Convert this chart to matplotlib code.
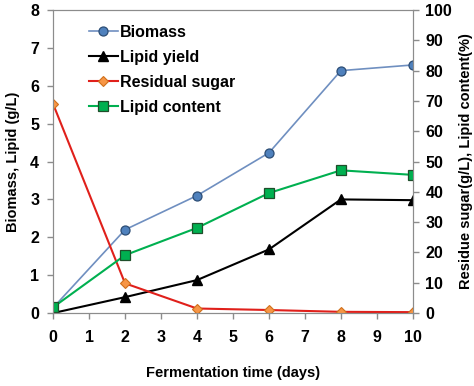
import matplotlib.pyplot as plt
import numpy as np

plt.rcParams['font.family'] = ['Liberation Sans', 'DejaVu Sans']
plt.rcParams['font.weight'] = 'bold'

# data
days = [0, 2, 4, 6, 8, 10]
biomass = [0.14, 2.2, 3.1, 4.23, 6.4, 6.55]        # g/L, left axis
lipid_yield = [0.0, 0.42, 0.87, 1.68, 3.0, 2.98]   # g/L, left axis
residual_sugar = [69.0, 9.8, 1.5, 1.0, 0.4, 0.3]   # g/L, right axis
lipid_content = [1.9, 19.1, 28.1, 39.6, 47.1, 45.6]  # %, right axis

fig = plt.figure(figsize=(4.74, 3.86), dpi=100)
ax = fig.add_axes([0.112, 0.189, 0.759, 0.785])
ax2 = ax.twinx()

l1, = ax.plot(days, biomass, '-o', color='#6F8FC0', lw=1.2, ms=6.5,
              mfc='#4F81BD', mec='#2C4D75', mew=0.9, label='Biomass')
l2, = ax.plot(days, lipid_yield, '-^', color='black', lw=1.5, ms=6.5,
              mfc='black', mec='black', label='Lipid yield')
l3, = ax2.plot(days, residual_sugar, '-D', color='#E0201B', lw=1.5, ms=5,
               mfc='#F79646', mec='#D0701B', mew=0.8, label='Residual sugar')
l4, = ax2.plot(days, lipid_content, '-s', color='#00B050', lw=1.5, ms=6.5,
               mfc='#00B050', mec='#1E4E2A', mew=0.9, label='Lipid content')

ax.set_xlim(0, 10)
ax.set_ylim(0, 8)
ax2.set_ylim(0, 100)
ax.set_xticks(range(0, 11))
ax.set_yticks(range(0, 9))
ax2.set_yticks(range(0, 101, 10))

for a in (ax, ax2):
    for s in a.spines.values():
        s.set_color('#8C8C8C')
    a.tick_params(colors='#8C8C8C', labelcolor='black', labelsize=11.5,
                  length=4, width=1, direction='out')
    for lab in a.get_xticklabels() + a.get_yticklabels():
        lab.set_fontweight('bold')
ax.tick_params(axis='x', pad=8)
ax.tick_params(axis='y', pad=6)
ax2.tick_params(axis='y', pad=5)

ax.set_xlabel('Fermentation time (days)', fontsize=10.5, fontweight='bold', labelpad=15)
ax.set_ylabel('Biomass, Lipid (g/L)', fontsize=10.5, fontweight='bold', labelpad=7)
ax2.set_ylabel('Residue sugar(g/L), Lipid content(%)', fontsize=10.5,
               fontweight='bold', labelpad=5)

leg = ax2.legend(handles=[l1, l2, l3, l4], loc='upper left',
                 bbox_to_anchor=(0.06, 0.998), frameon=False, fontsize=11.5,
                 handlelength=1.8, handletextpad=0.15, labelspacing=0.62)
for t in leg.get_texts():
    t.set_fontweight('bold')

fig.savefig('out.png', dpi=100)
